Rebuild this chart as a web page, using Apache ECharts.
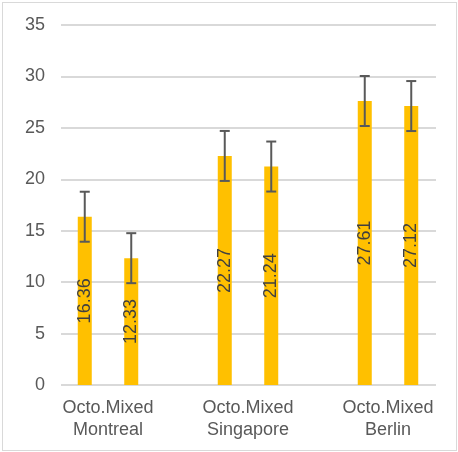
<!DOCTYPE html>
<html>
<head>
<meta charset="utf-8">
<script src="https://cdn.jsdelivr.net/npm/echarts@6/dist/echarts.min.js"></script>
<style>
  html, body { margin: 0; padding: 0; background: #fff; }
  #wrap { position: absolute; left: 2px; top: 2px; width: 453px; height: 447px; border: 1px solid #d9d9d9; }
  #chart { position: absolute; left: 0; top: 0; width: 458px; height: 452px; }
</style>
</head>
<body>
<div id="wrap"></div>
<div id="chart"></div>
<script>
// categories and values
const categories = ['Octo.Mixed\nMontreal', 'Octo.Mixed\nSingapore', 'Octo.Mixed\nBerlin'];
const seriesA = [16.36, 22.27, 27.61];
const seriesB = [12.33, 21.24, 27.12];
const errA = [2.43, 2.43, 2.43];
const errB = [2.43, 2.43, 2.43];
const yTicks = { min: 0, max: 35, interval: 5 };

const font = 'Liberation Sans, Arial, sans-serif';
const barW = 14;
const offset = 23.25;

function errorSeries(vals, errs, shift) {
    return {
        type: 'custom',
        xAxisIndex: 0,
        yAxisIndex: 0,
        z: 10,
        data: vals.map((v, i) => [i, v - errs[i], v + errs[i]]),
        renderItem: function (params, api) {
            const lo = api.coord([api.value(0), api.value(1)]);
            const hi = api.coord([api.value(0), api.value(2)]);
            const x = lo[0] + shift;
            const cap = 5;
            const style = { stroke: '#595959', lineWidth: 2 };
            return {
                type: 'group',
                children: [
                    { type: 'line', shape: { x1: x, y1: hi[1], x2: x, y2: lo[1] }, style: style },
                    { type: 'line', shape: { x1: x - cap, y1: hi[1], x2: x + cap, y2: hi[1] }, style: style },
                    { type: 'line', shape: { x1: x - cap, y1: lo[1], x2: x + cap, y2: lo[1] }, style: style }
                ]
            };
        }
    };
}

const barLabel = {
    show: true,
    position: 'inside',
    rotate: 90,
    color: '#404040',
    fontSize: 18,
    fontFamily: font
};

const chart = echarts.init(document.getElementById('chart'), null, { renderer: 'canvas' });
chart.setOption({
    animation: false,
    grid: [
        // bars and category labels
        { left: 38, right: -1, top: 25, bottom: 67 },
        // gridlines and value labels
        { left: 61, right: 22, top: 25, bottom: 67 }
    ],
    xAxis: [
        {
            type: 'category',
            gridIndex: 0,
            data: categories,
            axisLine: { show: false },
            axisTick: { show: false },
            axisLabel: {
                color: '#595959',
                fontSize: 18,
                lineHeight: 22,
                margin: 12,
                fontFamily: font
            }
        },
        { type: 'value', gridIndex: 1, min: 0, max: 1, show: false }
    ],
    yAxis: [
        {
            type: 'value', gridIndex: 0,
            min: yTicks.min, max: yTicks.max, interval: yTicks.interval,
            show: false
        },
        {
            type: 'value', gridIndex: 1,
            min: yTicks.min, max: yTicks.max, interval: yTicks.interval,
            axisLine: { show: false },
            axisTick: { show: false },
            splitLine: { lineStyle: { color: '#d9d9d9', width: 2 } },
            axisLabel: {
                color: '#595959',
                fontSize: 18,
                margin: 16,
                fontFamily: font
            }
        }
    ],
    series: [
        {
            type: 'bar', data: seriesA, barWidth: barW, barGap: '232%',
            xAxisIndex: 0, yAxisIndex: 0,
            itemStyle: { color: '#FFC000' }, label: barLabel
        },
        {
            type: 'bar', data: seriesB, barWidth: barW,
            xAxisIndex: 0, yAxisIndex: 0,
            itemStyle: { color: '#FFC000' }, label: barLabel
        },
        errorSeries(seriesA, errA, -offset),
        errorSeries(seriesB, errB, offset)
    ]
});
</script>
</body>
</html>
